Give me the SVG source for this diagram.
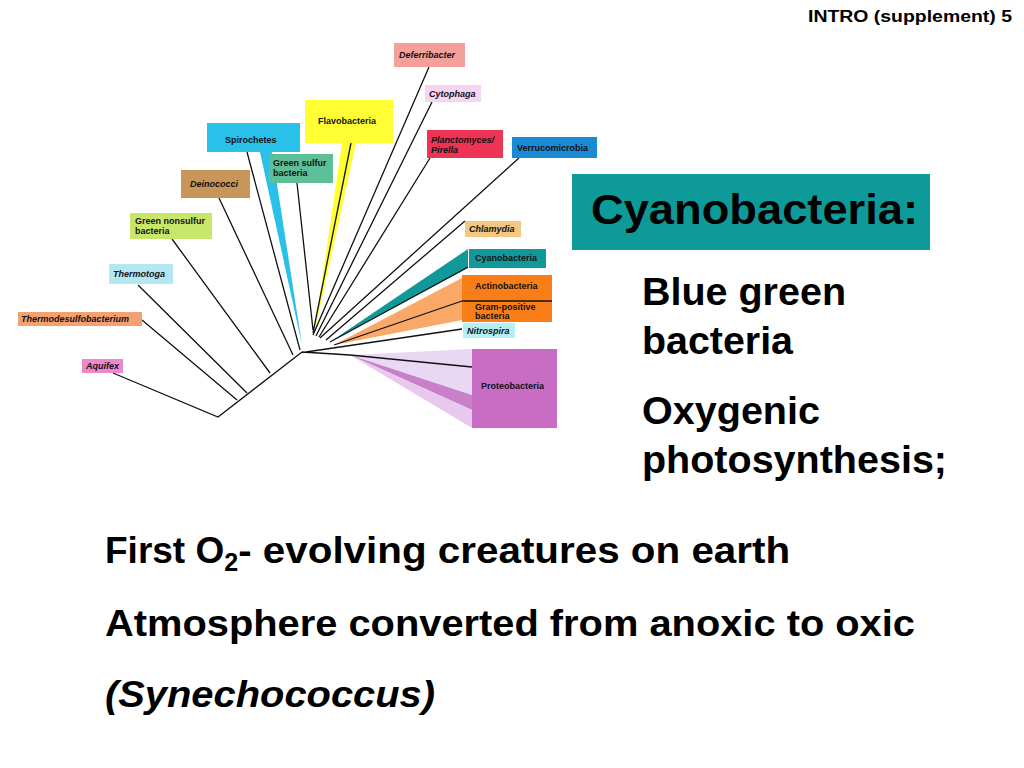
<svg xmlns="http://www.w3.org/2000/svg" width="1024" height="768" viewBox="0 0 1024 768">
<style>
.l{font-family:"Liberation Sans",Arial,sans-serif;font-size:9px;font-weight:bold;fill:#111}
.i{font-style:italic}
.t{stroke:#111;stroke-width:1.3;fill:none}
.b{font-family:"Liberation Sans",Arial,sans-serif;font-weight:bold;fill:#000}
</style>
<rect width="1024" height="768" fill="#fff"/>
<text class="b" x="808" y="22" font-size="16" textLength="204" lengthAdjust="spacingAndGlyphs">INTRO (supplement) 5</text>
<g id="wedges">
<polygon points="260,152 272,152 302,345" fill="#29c0ea"/>
<polygon points="342,143 356,143 314,335" fill="#ffff33"/>
<polygon points="468,249 468,268 330,342" fill="#119999"/>
<polygon points="462,278 462,320 334,345" fill="#f9a868"/>
<polygon points="350,355 472,349 472,395" fill="#e8d8f4"/>
<polygon points="350,355 472,395 472,410" fill="#c880c8"/>
<polygon points="350,355 472,410 472,428" fill="#e8c8ec"/>
</g>
<g id="connectors">
<path class="t" d="M113,373 L218,417 L302,352 M142,320 L237,400 M138,285 L247,393 M172,239 L270,373 M219,198 L293,355 M247,152 L300,350 M297,183 L313,330 M351,143 L313,333 M429,67 L313,335 M432,102 L316,336 M430,158 L319,337 M519,158 L320,338 M465,221 L326,340 M468,267 L330,342 M462,301 L334,345 M462,329 L306,352 M302,352 L350,355 L472,367"/>
</g>
<g id="deferribacter"><rect x="394" y="43" width="71" height="24" fill="#f4a09a"/><text class="l i" x="399" y="58">Deferribacter</text></g>
<g id="cytophaga"><rect x="425" y="85" width="56" height="17" fill="#f8d4f4"/><text class="l i" x="429" y="97">Cytophaga</text></g>
<g id="flavobacteria"><rect x="305" y="100" width="88" height="43" fill="#ffff33"/><text class="l" x="318" y="124">Flavobacteria</text></g>
<g id="spirochetes"><rect x="207" y="123" width="93" height="29" fill="#29c0ea"/><text class="l" x="225" y="143">Spirochetes</text></g>
<g id="greensulfur"><rect x="269" y="154" width="64" height="29" fill="#5dbf98"/><text class="l" x="273" y="166">Green sulfur</text><text class="l" x="273" y="176">bacteria</text></g>
<g id="planctomyces"><rect x="427" y="130" width="76" height="28" fill="#ee3355"/><text class="l i" x="431" y="143">Planctomyces/</text><text class="l i" x="431" y="153">Pirella</text></g>
<g id="verrucomicrobia"><rect x="512" y="137" width="85" height="21" fill="#1a8ad4"/><text class="l" x="517" y="151">Verrucomicrobia</text></g>
<g id="deinococci"><rect x="181" y="170" width="69" height="28" fill="#c8965a"/><text class="l i" x="190" y="187">Deinococci</text></g>
<g id="greennonsulfur"><rect x="130" y="213" width="82" height="26" fill="#c8e66a"/><text class="l" x="135" y="224">Green nonsulfur</text><text class="l" x="135" y="234">bacteria</text></g>
<g id="thermotoga"><rect x="109" y="264" width="64" height="20" fill="#b4e6f4"/><text class="l i" x="113" y="277">Thermotoga</text></g>
<g id="thermodesulfobacterium"><rect x="18" y="312" width="124" height="14" fill="#f4a070"/><text class="l i" x="21" y="322">Thermodesulfobacterium</text></g>
<g id="aquifex"><rect x="82" y="359" width="41" height="14" fill="#ee88cc"/><text class="l i" x="86" y="369">Aquifex</text></g>
<g id="chlamydia"><rect x="465" y="221" width="56" height="16" fill="#f4c880"/><text class="l i" x="469" y="232">Chlamydia</text></g>
<g id="cyanobacteria-node"><rect x="469" y="249" width="77" height="19" fill="#119999"/><text class="l" x="475" y="261">Cyanobacteria</text></g>
<g id="actinobacteria"><rect x="462" y="275" width="90" height="47" fill="#f97e17"/><line class="t" x1="462" y1="301" x2="552" y2="301"/><text class="l" x="475" y="289">Actinobacteria</text><text class="l" x="475" y="310">Gram-positive</text><text class="l" x="475" y="319">bacteria</text></g>
<g id="nitrospira"><rect x="463" y="323" width="52" height="15" fill="#b4f0f4"/><text class="l i" x="467" y="334">Nitrospira</text></g>
<g id="proteobacteria"><rect x="472" y="349" width="85" height="79" fill="#c86cc4"/><text class="l" x="481" y="389">Proteobacteria</text></g>
<g id="title"><rect x="572" y="174" width="358" height="76" fill="#0f9a9a"/><text class="b" x="591" y="224" font-size="42" textLength="327" lengthAdjust="spacingAndGlyphs">Cyanobacteria:</text></g>
<g class="b" font-size="38">
<text x="642" y="305" textLength="204" lengthAdjust="spacingAndGlyphs">Blue green</text>
<text x="642" y="354" textLength="151" lengthAdjust="spacingAndGlyphs">bacteria</text>
<text x="642" y="424" textLength="178" lengthAdjust="spacingAndGlyphs">Oxygenic</text>
<text x="642" y="473" textLength="305" lengthAdjust="spacingAndGlyphs">photosynthesis;</text>
</g>
<g class="b" font-size="37">
<text x="105" y="563">First O<tspan font-size="25" dy="8">2</tspan><tspan dy="-8" textLength="552" lengthAdjust="spacingAndGlyphs">- evolving creatures on earth</tspan></text>
<text x="105" y="636" textLength="810" lengthAdjust="spacingAndGlyphs">Atmosphere converted from anoxic to oxic</text>
<text x="105" y="707" font-style="italic" textLength="330" lengthAdjust="spacingAndGlyphs">(Synechococcus)</text>
</g>
</svg>
